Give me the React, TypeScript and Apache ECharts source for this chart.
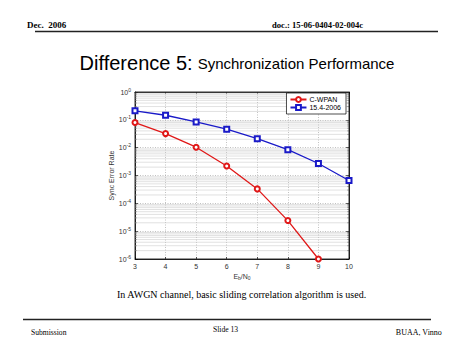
import React, { useEffect, useRef } from "react";
import * as echarts from "echarts";

const ebn0 = [3, 4, 5, 6, 7, 8, 9, 10];
const cwpan = [0.08, 0.032, 0.0104, 0.0022, 0.00033, 0.000024, 0.000001];
const std2006 = [0.21, 0.146, 0.084, 0.046, 0.021, 0.0085, 0.0027, 0.00066];
const xTicks = [3, 4, 5, 6, 7, 8, 9, 10];
const decades = [-6, -5, -4, -3, -2, -1, 0];
const minorMultipliers = [2, 3, 4, 5, 6, 7, 8, 9];

const W = 474;
const H = 355;

export default function App() {
  const ref = useRef<HTMLDivElement>(null);
  useEffect(() => {
    if (!ref.current) return;
    const chart = echarts.init(ref.current, undefined, { renderer: "svg" });
    const minorVals: number[] = [];
    decades.slice(0, -1).forEach((d) => {
      minorMultipliers.forEach((m) => minorVals.push(m * Math.pow(10, d)));
    });
    const xMin = xTicks[0];
    const xMax = xTicks[xTicks.length - 1];
    const gridData: any[] = [];
    const tickData: any[] = [];
    minorVals.forEach((v) => {
      gridData.push([xMin, v], [xMax, v], "-");
      tickData.push([xMin, v], [xMin + 0.05, v], "-", [xMax - 0.05, v], [xMax, v], "-");
    });
    const serif = "'Liberation Serif', 'DejaVu Serif', serif";
    const sans = "'Liberation Sans', Arial, sans-serif";
    chart.setOption({
      animation: false,
      backgroundColor: "#ffffff",
      title: {
        text: "{a|Difference 5:} {b|Synchronization Performance}",
        left: "center",
        top: 48,
        textStyle: {
          fontWeight: "normal",
          rich: {
            a: { fontSize: 20, fontFamily: sans, color: "#000", fontWeight: "normal" },
            b: { fontSize: 15, fontFamily: sans, color: "#000", fontWeight: "normal" },
          },
        },
      },
      graphic: {
        elements: [
          { type: "text", left: 27, top: 20, style: { text: "Dec.  2006", font: "bold 9px " + serif, fill: "#000" } },
          { type: "text", left: 272, top: 20, style: { text: "doc.: 15-06-0404-02-004c", font: "bold 8.6px " + serif, fill: "#000" } },
          { type: "text", left: 117, top: 289, style: { text: "In AWGN channel, basic sliding correlation algorithm is used.", font: "10px " + serif, fill: "#000" } },
          { type: "text", left: 31, top: 328, style: { text: "Submission", font: "7.6px " + serif, fill: "#000" } },
          { type: "text", left: 213, top: 325, style: { text: "Slide 13", font: "7.6px " + serif, fill: "#000" } },
          { type: "text", right: 32, top: 328, style: { text: "BUAA, Vinno", font: "8px " + serif, fill: "#000" } },
        ],
      },
      legend: {
        right: W - 346,
        top: 93,
        orient: "vertical",
        itemGap: 1,
        itemWidth: 16,
        itemHeight: 6,
        padding: [3, 5, 3, 3],
        backgroundColor: "#fff",
        borderColor: "#000",
        borderWidth: 0.7,
        borderRadius: 0,
        textStyle: { fontSize: 7, fontFamily: sans, color: "#000", padding: [0, 0, 0, -2] },
        data: ["C-WPAN", "15.4-2006"],
      },
      grid: [
        { left: 135, top: 92, width: 214, height: 167, show: true, borderColor: "#000", borderWidth: 0.8, backgroundColor: "transparent" },
        { left: 0, top: 0, width: W, height: H, show: false },
      ],
      xAxis: [
        {
          type: "value",
          min: xMin,
          max: xMax,
          interval: 1,
          name: "{n|E}{s|b}{n|/N}{s|0}",
          nameLocation: "middle",
          nameGap: 13,
          nameTextStyle: { rich: { n: { fontSize: 7, fontFamily: sans, color: "#333" }, s: { fontSize: 5, fontFamily: sans, color: "#333", verticalAlign: "bottom", padding: [3, 0, 0, 0] } } },
          axisLine: { show: true, lineStyle: { color: "#000", width: 0.8 } },
          axisTick: { inside: true, length: 2, lineStyle: { color: "#000", width: 0.6 } },
          axisLabel: { fontSize: 7, color: "#333", fontFamily: sans, margin: 4 },
          splitLine: { show: true, lineStyle: { color: "#999", width: 0.6, type: [1, 1.5] } },
        },
        {
          type: "value",
          position: "top",
          min: xMin,
          max: xMax,
          interval: 1,
          axisLine: { show: true, lineStyle: { color: "#000", width: 0.8 } },
          axisTick: { inside: true, length: 2, lineStyle: { color: "#000", width: 0.6 } },
          axisLabel: { show: false },
          splitLine: { show: false },
        },
        { type: "value", gridIndex: 1, min: 0, max: W, show: false },
      ],
      yAxis: [
        {
          type: "log",
          logBase: 10,
          min: 1e-6,
          max: 1,
          name: "Sync Error Rate",
          nameLocation: "middle",
          nameRotate: 90,
          nameGap: 17,
          nameTextStyle: { fontSize: 7, fontFamily: sans, color: "#333" },
          axisLine: { show: true, lineStyle: { color: "#000", width: 0.8 } },
          axisTick: { inside: true, length: 3, lineStyle: { color: "#000", width: 0.6 } },
          axisLabel: {
            margin: 4,
            formatter: (v: number) => {
              const e = Math.round(Math.log10(v));
              return "{b|10}{s|" + e + "}";
            },
            rich: {
              b: { fontSize: 7, fontFamily: sans, color: "#333" },
              s: { fontSize: 5, fontFamily: sans, color: "#333", padding: [0, 0, 5, 0] },
            },
          },
          splitLine: { show: true, lineStyle: { color: "#999", width: 0.6, type: [1, 1.5] } },
        },
        {
          type: "log",
          logBase: 10,
          min: 1e-6,
          max: 1,
          position: "right",
          axisLine: { show: true, lineStyle: { color: "#000", width: 0.8 } },
          axisTick: { inside: true, length: 3, lineStyle: { color: "#000", width: 0.6 } },
          axisLabel: { show: false },
          splitLine: { show: false },
        },
        { type: "value", gridIndex: 1, min: 0, max: H, inverse: true, show: false },
      ],
      series: [
        {
          name: "page-rules",
          type: "line",
          xAxisIndex: 2,
          yAxisIndex: 2,
          data: [[35, 31.5], [438, 31.5], "-", [23, 319.5], [431, 319.5]],
          silent: true,
          symbol: "none",
          connectNulls: false,
          lineStyle: { color: "#222", width: 1.6 },
        },
        {
          name: "grid-minor",
          type: "line",
          data: gridData,
          silent: true,
          symbol: "none",
          connectNulls: false,
          z: 1,
          lineStyle: { color: "#cdcdcd", width: 0.6 },
        },
        {
          name: "tick-minor",
          type: "line",
          data: tickData,
          silent: true,
          symbol: "none",
          connectNulls: false,
          z: 1,
          lineStyle: { color: "#333", width: 0.6 },
        },
        {
          name: "C-WPAN",
          type: "line",
          data: cwpan.map((v, i) => [ebn0[i], v]),
          symbol: "emptyCircle",
          symbolSize: 5,
          z: 3,
          itemStyle: { color: "#e01818", borderWidth: 1.2 },
          lineStyle: { color: "#e01818", width: 1.3 },
        },
        {
          name: "15.4-2006",
          type: "line",
          data: std2006.map((v, i) => [ebn0[i], v]),
          symbol: "emptyRect",
          symbolSize: 5,
          z: 3,
          itemStyle: { color: "#1a1ac8", borderWidth: 1.2 },
          lineStyle: { color: "#1a1ac8", width: 1.3 },
        },
      ],
    });
    return () => chart.dispose();
  }, []);
  return <div ref={ref} style={{ position: "fixed", left: 0, top: 0, width: W, height: H }} />;
}
